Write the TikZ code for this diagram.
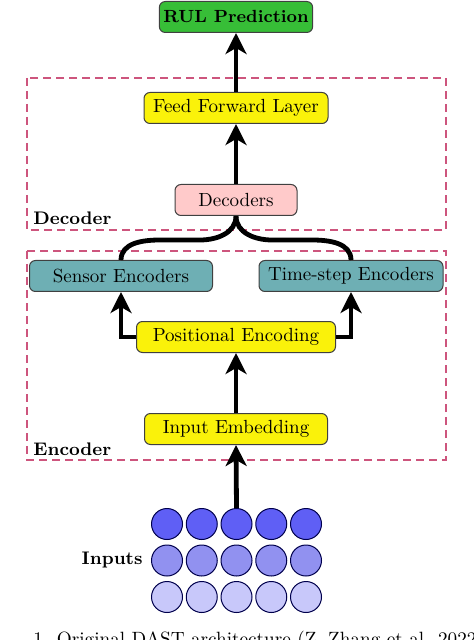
\documentclass[tikz,border=0pt]{standalone}
\usepackage{tikz}
\usetikzlibrary{arrows.meta,calc,positioning}
\definecolor{rulgreen}{RGB}{55,190,55}
\definecolor{ffyellow}{RGB}{250,242,10}
\definecolor{decpink}{RGB}{255,202,202}
\definecolor{encteal}{RGB}{110,175,180}
\definecolor{grpline}{RGB}{205,85,125}
\definecolor{intop}{RGB}{95,95,245}
\definecolor{inmid}{RGB}{145,145,240}
\definecolor{inlow}{RGB}{200,200,250}

\begin{document}
\begin{tikzpicture}[x=0.5pt,y=-0.5pt,>={Stealth[length=10.5pt,width=10.5pt,inset=3pt]},
  block/.style={draw=black!75,line width=0.5pt,rounded corners=3pt,minimum width=91.5pt,
    minimum height=15.5pt,inner sep=2pt,font=\fontsize{9.5}{11}\selectfont},
  flow/.style={->,line width=2.4pt},
  group/.style={draw=grpline,dash pattern=on 4pt off 2.5pt,line width=0.7pt},
  grptitle/.style={inner sep=0pt,font=\fontsize{9.1}{11}\selectfont\bfseries},
  dot/.style={circle,draw=black!70!blue,line width=0.5pt,minimum size=15.5pt,inner sep=0pt}]
  \useasboundingbox (0,0) rectangle (474,640);

  \draw[group] (27,78) rectangle (446,230);
  \draw[group] (27,251) rectangle (446,460);
  \node[grptitle,anchor=base west] (dectitle) at (33,225) {Decoder};
  \node[grptitle,anchor=base west] (enctitle) at (33,455) {Encoder};

  \node[block,fill=rulgreen,minimum width=76pt,font=\fontsize{8.8}{11}\selectfont\bfseries] (rul) at (236,17) {RUL Prediction};
  \node[block,fill=ffyellow,minimum width=92pt] (ffl) at (236,108) {Feed Forward Layer};
  \node[block,fill=decpink,minimum width=61pt] (dec) at (236,200) {Decoders};
  \node[block,fill=encteal] (sen) at (121,276) {Sensor Encoders};
  \node[block,fill=encteal,minimum width=92pt] (tim) at (351,276) {Time-step Encoders};
  \node[block,fill=ffyellow,minimum width=99.5pt] (pos) at (236,337) {Positional Encoding};
  \node[block,fill=ffyellow] (emb) at (236,429) {Input Embedding};

  \foreach \r/\col in {0/intop,1/inmid,2/inlow}
    \foreach \k in {0,...,4}
      \node[dot,fill=\col] (in-\r-\k) at (167+34.75*\k,524+36.5*\r) {};
  \node[grptitle,left=4pt of in-1-0] (inlabel) {Inputs};

  \draw[flow] (in-0-2.north) -- (emb.south);
  \draw[flow] (emb.north) -- (pos.south);
  \draw[flow] (pos.west) -| (sen.south);
  \draw[flow] (pos.east) -| (tim.south);
  \draw[line width=2.4pt] (sen.north) to[out=90,in=180] ($(dec.south)+(-76,24)$)
    -- ($(dec.south)+(-36,24)$) to[out=0,in=270] (dec.south);
  \draw[line width=2.4pt] (tim.north) to[out=90,in=0] ($(dec.south)+(76,24)$)
    -- ($(dec.south)+(36,24)$) to[out=180,in=270] (dec.south);
  \draw[flow] (dec.north) -- (ffl.south);
  \draw[flow] (ffl.north) -- (rul.south);

  \node[anchor=north west,inner sep=0pt,font=\fontsize{9.6}{11}\selectfont] (caption) at (33,631)
    {1. Original DAST architecture (Z. Zhang et al. 2022)};
\end{tikzpicture}
\end{document}
